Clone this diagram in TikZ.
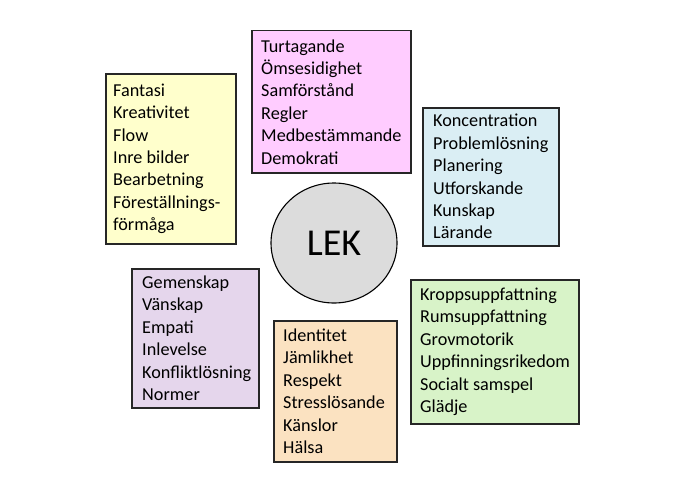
\documentclass[tikz,border=0pt]{standalone}
\usepackage{fontspec}
\setmainfont{Carlito}
\usetikzlibrary{shapes.geometric}
\definecolor{cyellow}{HTML}{FFFFCC}
\definecolor{cpink}{HTML}{FFCCFF}
\definecolor{cblue}{HTML}{DAEEF4}
\definecolor{cpurple}{HTML}{E5D6EC}
\definecolor{corange}{HTML}{FBE2C1}
\definecolor{cgreen}{HTML}{D8F3C8}
\definecolor{cgrey}{HTML}{DCDCDC}
\definecolor{cedge}{HTML}{262626}
\begin{document}
\begin{tikzpicture}[x=1pt,y=-1pt,
  box/.style={draw=cedge,line width=1.5pt,anchor=north west,inner sep=0pt},
  txt/.style={anchor=west,align=left,inner sep=0pt,text=black,
    font=\fontsize{18.2}{22.4}\selectfont}]
\useasboundingbox (0,0) rectangle (700,495);
% boxes
\node[box,fill=cyellow,minimum width=130pt,minimum height=170pt] (yb) at (105,73) {};
\node[box,fill=cpink,minimum width=159pt,minimum height=142pt] (pb) at (251,30) {};
\node[box,fill=cblue,minimum width=136pt,minimum height=138pt] (bb) at (422,107) {};
\node[box,fill=cpurple,minimum width=127pt,minimum height=139pt] (ub) at (131,268) {};
\node[box,fill=corange,minimum width=123pt,minimum height=141pt] (ob) at (273,320) {};
\node[box,fill=cgreen,minimum width=168pt,minimum height=144pt] (gb) at (410,279) {};
% texts
\node[txt] (yt) at ([xshift=8pt]yb.west) {Fantasi\\Kreativitet\\Flow\\Inre bilder\\Bearbetning\\Föreställnings-\\förmåga};
\node[txt] (pt) at ([xshift=10pt]pb.west) {Turtagande\\Ömsesidighet\\Samförstånd\\Regler\\Medbestämmande\\Demokrati};
\node[txt] (bt) at ([xshift=11pt]bb.west) {Koncentration\\Problemlösning\\Planering\\Utforskande\\Kunskap\\Lärande};
\node[txt] (ut) at ([xshift=11pt]ub.west) {Gemenskap\\Vänskap\\Empati\\Inlevelse\\Konfliktlösning\\Normer};
\node[txt] (ot) at ([xshift=10pt]ob.west) {Identitet\\Jämlikhet\\Respekt\\Stresslösande\\Känslor\\Hälsa};
\node[txt] (gt) at ([xshift=10pt]gb.west) {Kroppsuppfattning\\Rumsuppfattning\\Grovmotorik\\Uppfinningsrikedom\\Socialt samspel\\Glädje};
% centre
\node[draw=black,line width=1.1pt,fill=cgrey,ellipse,minimum width=126pt,minimum height=120pt,inner sep=0pt,
  font=\fontsize{38}{40}\selectfont] (lek) at (334,243) {LEK};
\end{tikzpicture}
\end{document}
